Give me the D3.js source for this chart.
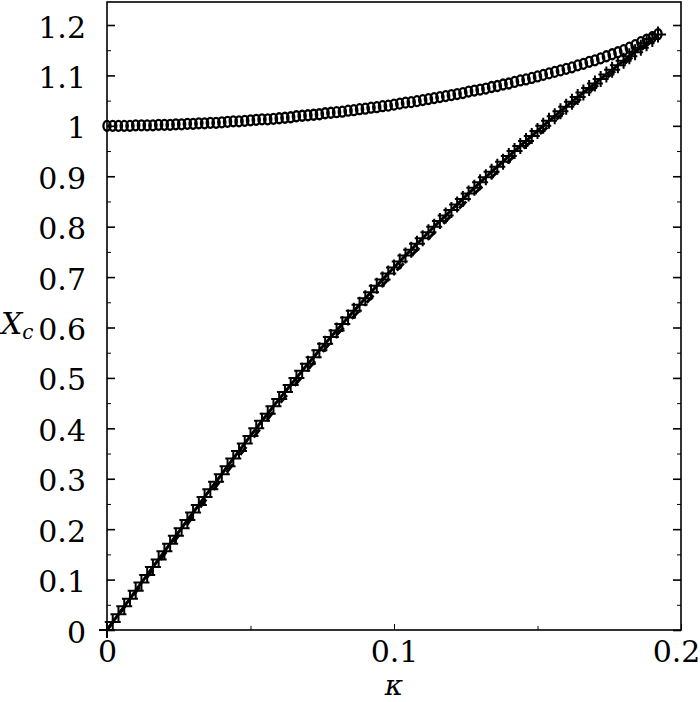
<!DOCTYPE html>
<html>
<head>
<meta charset="utf-8">
<script src="https://cdn.jsdelivr.net/npm/d3@7"></script>
<style>
  body { margin: 0; background: #fff; }
  svg { display: block; }
  text { font-family: "DejaVu Serif", "Liberation Serif", serif; }
</style>
</head>
<body>
<div id="chart"></div>
<script>
// kappa grid of the numerical points
const kappa = [
  0.000, 0.002, 0.004, 0.006, 0.008, 0.010, 0.012, 0.014, 0.016, 0.018,
  0.020, 0.022, 0.024, 0.026, 0.028, 0.030, 0.032, 0.034, 0.036, 0.038,
  0.040, 0.042, 0.044, 0.046, 0.048, 0.050, 0.052, 0.054, 0.056, 0.058,
  0.060, 0.062, 0.064, 0.066, 0.068, 0.070, 0.072, 0.074, 0.076, 0.078,
  0.080, 0.082, 0.084, 0.086, 0.088, 0.090, 0.092, 0.094, 0.096, 0.098,
  0.100, 0.102, 0.104, 0.106, 0.108, 0.110, 0.112, 0.114, 0.116, 0.118,
  0.120, 0.122, 0.124, 0.126, 0.128, 0.130, 0.132, 0.134, 0.136, 0.138,
  0.140, 0.142, 0.144, 0.146, 0.148, 0.150, 0.152, 0.154, 0.156, 0.158,
  0.160, 0.162, 0.164, 0.166, 0.168, 0.170, 0.172, 0.174, 0.176, 0.178,
  0.180, 0.182, 0.184, 0.186, 0.188, 0.190, 0.192
];

// upper branch (circles)
const xcCircles = [
  1.000, 1.000, 1.000, 1.000, 1.000, 1.001, 1.001, 1.001, 1.001, 1.002,
  1.002, 1.002, 1.003, 1.003, 1.004, 1.004, 1.005, 1.005, 1.006, 1.006,
  1.007, 1.008, 1.009, 1.009, 1.010, 1.011, 1.012, 1.013, 1.013, 1.014,
  1.015, 1.016, 1.017, 1.019, 1.020, 1.021, 1.022, 1.023, 1.025, 1.026,
  1.027, 1.028, 1.030, 1.031, 1.033, 1.034, 1.036, 1.037, 1.039, 1.040,
  1.042, 1.044, 1.046, 1.047, 1.049, 1.051, 1.053, 1.055, 1.057, 1.059,
  1.061, 1.063, 1.065, 1.068, 1.070, 1.072, 1.074, 1.077, 1.079, 1.082,
  1.084, 1.087, 1.090, 1.092, 1.095, 1.098, 1.101, 1.104, 1.107, 1.110,
  1.113, 1.116, 1.120, 1.123, 1.127, 1.130, 1.134, 1.138, 1.142, 1.146,
  1.150, 1.155, 1.160, 1.166, 1.171, 1.176, 1.182
];

// lower branch (crosses)
const xcCrosses = [
  0.000, 0.016, 0.031, 0.047, 0.062, 0.078, 0.094, 0.109, 0.125, 0.140,
  0.156, 0.171, 0.187, 0.202, 0.218, 0.233, 0.248, 0.264, 0.279, 0.294,
  0.309, 0.325, 0.340, 0.355, 0.370, 0.385, 0.400, 0.415, 0.429, 0.444,
  0.458, 0.472, 0.486, 0.500, 0.514, 0.528, 0.541, 0.555, 0.568, 0.581,
  0.594, 0.607, 0.620, 0.633, 0.645, 0.658, 0.670, 0.683, 0.695, 0.707,
  0.719, 0.731, 0.743, 0.754, 0.766, 0.777, 0.789, 0.800, 0.811, 0.822,
  0.833, 0.844, 0.855, 0.866, 0.877, 0.888, 0.898, 0.909, 0.919, 0.929,
  0.940, 0.950, 0.960, 0.970, 0.980, 0.990, 1.000, 1.010, 1.019, 1.029,
  1.038, 1.048, 1.057, 1.066, 1.075, 1.084, 1.093, 1.102, 1.111, 1.120,
  1.129, 1.138, 1.146, 1.155, 1.164, 1.172, 1.181
];

// dashed approximation under the crosses
const kappaDash = [0, 0.02, 0.04, 0.06, 0.08, 0.10, 0.12, 0.14, 0.16, 0.18, 0.192];
const xcDash = [0, 0.150, 0.300, 0.448, 0.585, 0.708, 0.822, 0.930, 1.030, 1.122, 1.178];

const xTicks = [0, 0.1, 0.2];
const xTickLabels = ["0", "0.1", "0.2"];
const xMinorTicks = [0.05, 0.15];
const yTicks = [0, 0.1, 0.2, 0.3, 0.4, 0.5, 0.6, 0.7, 0.8, 0.9, 1, 1.1, 1.2];
const yTickLabels = ["0", "0.1", "0.2", "0.3", "0.4", "0.5", "0.6", "0.7", "0.8", "0.9", "1", "1.1", "1.2"];
const yMinorTicks = [0.05, 0.15, 0.25, 0.35, 0.45, 0.55, 0.65, 0.75, 0.85, 0.95, 1.05, 1.15];

const width = 700, height = 702;
const margin = {top: 2, right: 19, bottom: 72, left: 107};

const x = d3.scaleLinear().domain([0, 0.2]).range([margin.left, width - margin.right]);
const y = d3.scaleLinear().domain([0, 1.2]).range([height - margin.bottom, 25]);
const yTop = y.invert(margin.top);

const svg = d3.select("#chart").append("svg")
  .attr("width", width)
  .attr("height", height);

const serif = '"DejaVu Serif", "Liberation Serif", serif';

// frame
svg.append("rect")
  .attr("x", x(0))
  .attr("y", y(yTop))
  .attr("width", x(0.2) - x(0))
  .attr("height", y(0) - y(yTop))
  .attr("fill", "none")
  .attr("stroke", "#000")
  .attr("stroke-width", 1.6);

// left axis, major ticks inward
const yAxis = svg.append("g")
  .attr("transform", "translate(" + x(0) + ",0)")
  .call(d3.axisLeft(y).tickValues(yTicks).tickSize(-8).tickPadding(21)
    .tickFormat((d, i) => yTickLabels[i]));
yAxis.attr("font-family", serif);
yAxis.select(".domain").remove();
yAxis.selectAll(".tick line").attr("stroke-width", 1.6);
yAxis.selectAll(".tick text")
  .attr("font-family", serif)
  .attr("font-size", 30)
  .attr("dy", "0.4em");

svg.append("g")
  .attr("transform", "translate(" + x(0) + ",0)")
  .call(d3.axisLeft(y).tickValues(yMinorTicks).tickSize(-4).tickFormat(""))
  .call(g => g.select(".domain").remove());

// right axis ticks inward
svg.append("g")
  .attr("transform", "translate(" + x(0.2) + ",0)")
  .call(d3.axisRight(y).tickValues(yTicks).tickSize(-8).tickFormat(""))
  .call(g => g.select(".domain").remove())
  .call(g => g.selectAll(".tick line").attr("stroke-width", 1.6));
svg.append("g")
  .attr("transform", "translate(" + x(0.2) + ",0)")
  .call(d3.axisRight(y).tickValues(yMinorTicks).tickSize(-4).tickFormat(""))
  .call(g => g.select(".domain").remove());

// bottom axis
const xAxis = svg.append("g")
  .attr("transform", "translate(0," + y(0) + ")")
  .call(d3.axisBottom(x).tickValues(xTicks).tickSize(-6).tickPadding(11)
    .tickFormat((d, i) => xTickLabels[i]));
xAxis.attr("font-family", serif);
xAxis.select(".domain").remove();
xAxis.selectAll(".tick text")
  .attr("font-family", serif)
  .attr("font-size", 30)
  .attr("dx", (d, i) => i === xTicks.length - 1 ? -5 : 0);

svg.append("g")
  .attr("transform", "translate(0," + y(0) + ")")
  .call(d3.axisBottom(x).tickValues(xMinorTicks).tickSize(-4).tickFormat(""))
  .call(g => g.select(".domain").remove());

// axis titles
svg.append("text")
  .attr("x", x(0.1))
  .attr("y", 695)
  .attr("text-anchor", "middle")
  .attr("font-family", serif)
  .attr("font-style", "italic")
  .attr("font-size", 28)
  .text("κ");

const yLab = svg.append("text")
  .attr("x", 1)
  .attr("y", 334)
  .attr("font-family", serif)
  .attr("font-style", "italic")
  .attr("font-size", 30)
  .text("X");
yLab.append("tspan")
  .attr("font-size", 20)
  .attr("dy", 5)
  .text("c");

// solid line through the crosses
const crossLine = d3.line()
  .x((d, i) => x(kappa[i]))
  .y(d => y(d));
svg.append("path")
  .datum(xcCrosses)
  .attr("fill", "none")
  .attr("stroke", "#000")
  .attr("stroke-width", 3)
  .attr("d", crossLine);

// dashed line
const dashLine = d3.line()
  .x((d, i) => x(kappaDash[i]))
  .y(d => y(d));
svg.append("path")
  .datum(xcDash)
  .attr("fill", "none")
  .attr("stroke", "#000")
  .attr("stroke-width", 3)
  .attr("stroke-dasharray", "10,12")
  .attr("d", dashLine);

// crosses
svg.append("g")
  .selectAll("path")
  .data(xcCrosses)
  .join("path")
  .attr("transform", (d, i) => "translate(" + x(kappa[i]) + "," + y(d) + ")")
  .attr("d", "M-8,0H8M0,-8V8")
  .attr("stroke", "#000")
  .attr("stroke-width", 2);

// circles
svg.append("g")
  .selectAll("ellipse")
  .data(xcCircles)
  .join("ellipse")
  .attr("cx", (d, i) => x(kappa[i]))
  .attr("cy", d => y(d))
  .attr("rx", 3.6)
  .attr("ry", 5)
  .attr("fill", "none")
  .attr("stroke", "#000")
  .attr("stroke-width", 2.3);
</script>
</body>
</html>
